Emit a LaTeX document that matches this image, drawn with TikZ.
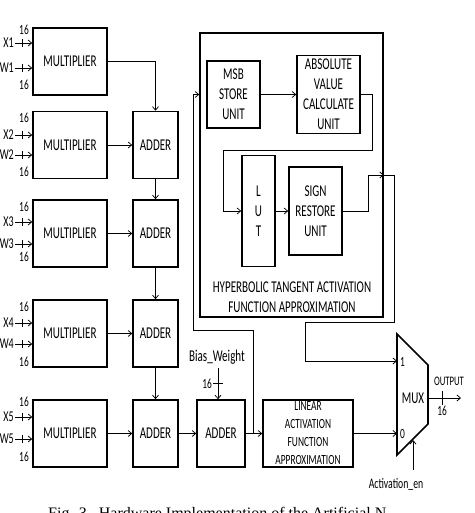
\documentclass[tikz,border=0pt]{standalone}
\usepackage{fontspec}
\setmainfont{Carlito}[FakeStretch=0.67]
\newfontfamily\capfont{Liberation Serif}
\usetikzlibrary{arrows.meta}
\begin{document}
\begin{tikzpicture}[x=1pt,y=-1pt,
  box/.style={draw, line width=1.6pt, inner sep=0pt, align=center, font=\fontsize{16.5}{20}\selectfont},
  arr/.style={-{Straight Barb[length=3.5pt,width=6pt]}, line width=0.75pt},
  ln/.style={line width=0.75pt},
  lbl/.style={font=\fontsize{15}{17}\selectfont, inner sep=0pt},
  num/.style={font=\fontsize{14}{16}\selectfont, inner sep=0pt}]
\useasboundingbox (0,0) rectangle (474,513);
\clip (0,0) rectangle (474,513);
% multipliers
\foreach \i/\cy in {1/61.5,2/145,3/233.5,4/333.5,5/433.5}
  \node[box, minimum width=74pt, minimum height=67pt] (m\i) at (70,\cy) {MULTIPLIER};
% adders
\foreach \i/\cy in {2/145,3/233.5,4/333.5,5/433.5}
  \node[box, minimum width=45pt, minimum height=67pt] (a\i) at (155.5,\cy) {ADDER};
\node[box, minimum width=48pt, minimum height=67pt] (b) at (221,433.5) {ADDER};
\node[box, minimum width=90pt, minimum height=67pt, font=\fontsize{14}{18}\selectfont] (lin) at (308,433.5) {LINEAR\\ACTIVATION\\FUNCTION\\APPROXIMATION};
% inputs
\foreach \i/\xa/\wa/\ta/\ba in {1/43/68/30/85,2/135/155/118/172,3/222/244/207/257,4/323/344/307/362,5/417/439/402/457} {
  \coordinate (xs\i) at (15,\xa);
  \coordinate (ws\i) at (15,\wa);
  \draw[arr] (xs\i) -- (xs\i -| m\i.west);
  \draw[arr] (ws\i) -- (ws\i -| m\i.west);
  \draw[ln] (22,{\xa-4}) -- (22,{\xa+4});
  \draw[ln] (22,{\wa-4}) -- (22,{\wa+4});
  \node[lbl, anchor=east] (xl\i) at (14,\xa) {X\i};
  \node[lbl, anchor=east] (wl\i) at (14,\wa) {W\i};
  \node[num] (tn\i) at (24,\ta) {16};
  \node[num] (bn\i) at (24,\ba) {16};
}
% multiplier/adder connections
\draw[arr] (m1.east) -| (a2.north);
\foreach \i in {2,3,4,5} \draw[arr] (m\i.east) -- (a\i.west);
\draw[arr] (a2.south) -- (a3.north);
\draw[arr] (a3.south) -- (a4.north);
\draw[arr] (a4.south) -- (a5.north);
\draw[arr] (a5.east) -- (b.west);
% bias
\node[font=\fontsize{16.5}{18}\selectfont, inner sep=0pt] (bwl) at (217,357) {Bias\_Weight};
\coordinate (bw) at (218,368);
\draw[arr] (bw) -- (bw |- b.north);
\draw[ln] (213,383) -- (223,383);
\node[num, anchor=east] (bn) at (212,384) {16};
% hyperbolic block
\node[draw, line width=1.6pt, minimum width=183pt, minimum height=284pt, inner sep=0pt] (hyp) at (291.5,175) {};
\node[font=\fontsize{16.5}{20}\selectfont, align=center, inner sep=0pt] (hypt) at (292,297) {HYPERBOLIC TANGENT ACTIVATION\\FUNCTION APPROXIMATION};
\node[box, minimum width=53pt, minimum height=67pt] (msb) at (233.5,94.5) {MSB\\STORE\\UNIT};
\node[box, minimum width=63pt, minimum height=78pt] (abs) at (328.5,94.5) {ABSOLUTE\\VALUE\\CALCULATE\\UNIT};
\node[box, minimum width=33pt, minimum height=111pt] (lut) at (258.5,211) {L\\U\\T};
\node[box, minimum width=53pt, minimum height=88pt] (sign) at (315.5,211) {SIGN\\RESTORE\\UNIT};
\draw[arr] (msb.east) -- (abs.west |- msb.east);
\draw[arr] (abs.east |- msb.east) -- (372,94.5) |- (223,150) |- (lut.west);
\draw[arr] (lut.east) -- (sign.west |- lut.east);
\draw[arr] (sign.east |- lut.east) -- (368,211) |- (hyp.east);
% feedback into hyperbolic block
\coordinate (j) at (253,433.5);
\draw[arr] (b.east) -- (lin.west);
\draw[arr] (j) |- (193,330) |- (hyp.west |- msb.east);
% mux
\coordinate (mux1) at (397,361);
\coordinate (mux0) at (397,433.5);
\coordinate (muxo) at (428,398);
\coordinate (muxb) at (413,440);
\draw[line width=1.6pt] (397,334) -- (428,365) -- (428,424) -- (397,455) -- cycle;
\node[font=\fontsize{16.5}{18}\selectfont, inner sep=0pt] (muxt) at (413,398) {MUX};
\node[num, anchor=west] (one) at (400,362) {1};
\node[num, anchor=west] (zero) at (400,434) {0};
\draw[arr] (hyp.east) -- (394,175) |- (305,322) |- (mux1);
\draw[arr] (lin.east) -- (mux0);
\coordinate (oe) at (461,398);
\draw[arr] (muxo) -- (oe);
\draw[ln] (442,391) -- (442,405);
\node[font=\fontsize{13}{15}\selectfont, inner sep=0pt] (outl) at (449,381) {OUTPUT};
\node[num] (on) at (442,411) {16};
\node[font=\fontsize{14.5}{16}\selectfont, inner sep=0pt] (ael) at (396,484) {Activation\_en};
\coordinate (aes) at (413,470);
\draw[arr] (aes) -- (muxb);
% caption (cut off at the lower edge, as in the reference)
\node[anchor=base west, inner sep=0pt, font=\capfont\fontsize{16}{18}\selectfont] (cap) at (48,518) {Fig. 3.\ \ Hardware Implementation of the Artificial N};
\end{tikzpicture}
\end{document}
